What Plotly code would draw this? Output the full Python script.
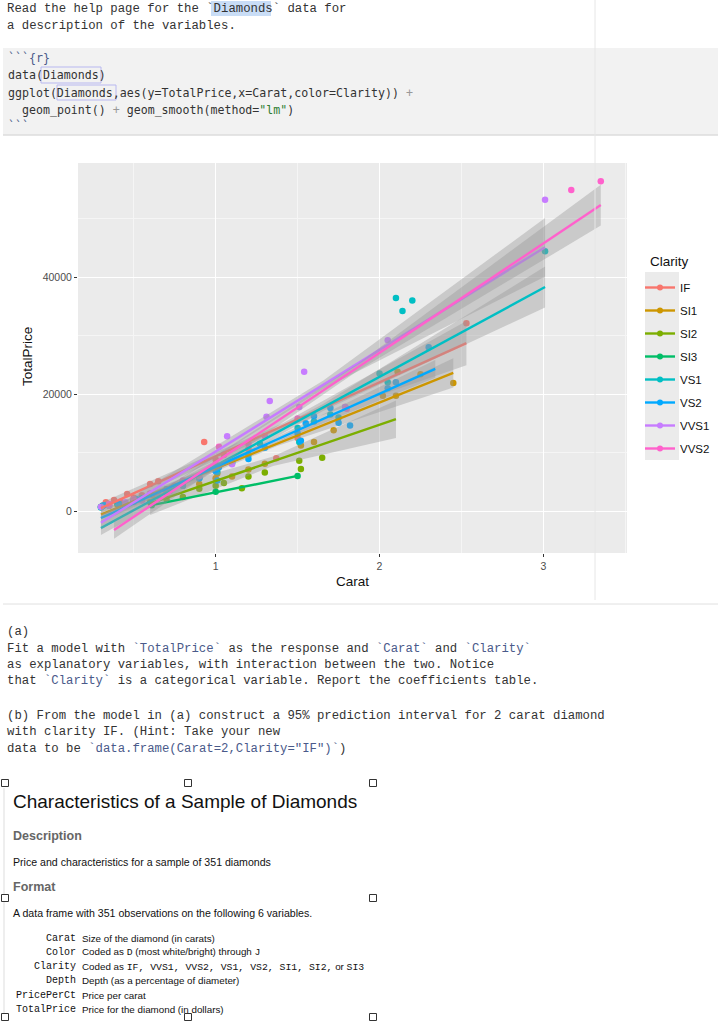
import plotly.graph_objects as go

W, H = 718, 1024

clarity = ["IF", "SI1", "SI2", "SI3", "VS1", "VS2", "VVS1", "VVS2"]
colors = ["#F8766D", "#CD9600", "#7CAE00", "#00BE67", "#00BFC4", "#00A9FF", "#C77CFF", "#FF61CC"]

carat = {
    "IF": [0.31, 0.33, 0.38, 0.42, 0.46, 0.5, 0.55, 0.6, 0.65, 0.93, 1.0, 1.05, 1.2, 1.37, 1.5, 1.79, 2.53],
    "SI1": [0.3, 0.35, 0.4, 0.5, 0.62, 0.7, 0.8, 0.9, 1.0, 1.01, 1.1, 1.2, 1.3, 1.52, 1.6, 1.72, 2.02, 2.1, 2.11, 2.25, 2.45],
    "SI2": [0.6, 0.7, 0.8, 0.9, 1.0, 1.05, 1.16, 1.2, 1.3, 1.51, 1.52, 1.65],
    "SI3": [0.61, 1.0, 1.5],
    "VS1": [0.3, 0.31, 0.4, 0.5, 0.55, 0.7, 0.8, 0.9, 1.0, 1.01, 1.1, 1.2, 1.27, 1.5, 1.51, 1.6, 1.7, 1.75, 2.0, 2.05, 2.1, 2.14, 2.2, 3.01],
    "VS2": [0.3, 0.32, 0.41, 0.5, 0.52, 0.6, 0.7, 0.72, 0.8, 0.9, 1.0, 1.01, 1.02, 1.1, 1.2, 1.3, 1.5, 1.52, 1.55, 1.6, 1.7, 1.75, 1.82, 2.05, 2.1, 2.3],
    "VVS1": [0.3, 0.35, 0.45, 0.55, 0.65, 0.75, 0.9, 1.07, 1.1, 1.31, 1.33, 1.51, 1.54, 1.79, 2.05, 3.01],
    "VVS2": [0.35, 0.5, 0.6, 0.8, 1.0, 1.02, 1.2, 1.3, 1.5, 1.8, 3.17, 3.35],
}
price = {
    "IF": [900, 1500, 1900, 1600, 2900, 2300, 2700, 4600, 5100, 11800, 8800, 9600, 10600, 9000, 12500, 17800, 32100],
    "SI1": [700, 900, 1100, 1700, 2600, 3200, 4300, 4600, 5600, 6400, 5900, 7100, 8100, 11200, 11800, 13800, 19700, 19700, 23800, 23400, 21900],
    "SI2": [1500, 2000, 2400, 3800, 4300, 4800, 3900, 5900, 6600, 8600, 7200, 9100],
    "SI3": [1000, 3300, 6000],
    "VS1": [600, 900, 1300, 1900, 2200, 3600, 5000, 5600, 7300, 6700, 8200, 9600, 11500, 14200, 11800, 15300, 16500, 16000, 23500, 22000, 36400, 34200, 36000, 44400],
    "VS2": [700, 1000, 1200, 1600, 2000, 2900, 3700, 3500, 4300, 5600, 6800, 5200, 7500, 8300, 8900, 10800, 13300, 12000, 15000, 16200, 17600, 15100, 14600, 21000, 22000, 28000],
    "VVS1": [700, 900, 1500, 1800, 2600, 4300, 6000, 12800, 8000, 16100, 18800, 17800, 23800, 17800, 29200, 53200],
    "VVS2": [1200, 2000, 3000, 5200, 8000, 11000, 11500, 12800, 15800, 17500, 54900, 56400],
}

# fitted lm lines and half widths of the grey bands
fit_x0 = [0.3, 0.3, 0.6, 0.61, 0.3, 0.3, 0.3, 0.38]
fit_x1 = [2.53, 2.45, 2.1, 1.5, 3.01, 2.34, 3.01, 3.35]
fit_y0 = [500, -600, 1300, 1000, -2900, -1200, -2000, -3250]
fit_y1 = [28700, 23600, 15700, 6000, 38300, 24300, 45100, 52300]
band_w0 = [900, 800, 2000, 0, 1200, 700, 1200, 1500]
band_wm = [500, 400, 800, 0, 600, 400, 700, 600]
band_w1 = [3800, 2500, 3200, 0, 3500, 1500, 5000, 3500]

fig = go.Figure()

for c, col in zip(clarity, colors):
    fig.add_trace(go.Scatter(x=carat[c], y=price[c], mode="markers", showlegend=False,
                             marker=dict(color=col, size=6.5)))

for i, (c, col) in enumerate(zip(clarity, colors)):
    x0, x1, y0, y1 = fit_x0[i], fit_x1[i], fit_y0[i], fit_y1[i]
    xm, ym = (x0 + x1) / 2, (y0 + y1) / 2
    if band_w1[i] > 0:
        fig.add_trace(go.Scatter(
            x=[x0, xm, x1, x1, xm, x0, x0],
            y=[y0 + band_w0[i], ym + band_wm[i], y1 + band_w1[i], y1 - band_w1[i],
               ym - band_wm[i], y0 - band_w0[i], y0 + band_w0[i]],
            fill="toself", fillcolor="rgba(153,153,153,0.4)", line=dict(width=0),
            mode="lines", showlegend=False, hoverinfo="skip"))
    fig.add_trace(go.Scatter(x=[x0, x1], y=[y0, y1], mode="lines", showlegend=False,
                             line=dict(color=col, width=2.4)))

for c, col in zip(clarity, colors):
    fig.add_trace(go.Scatter(x=[None], y=[None], mode="lines+markers", name=c, legendgroup=c,
                             line=dict(color=col, width=2.4), marker=dict(color=col, size=6)))


def py(y):
    return 1 - y / H


def px(x):
    return x / W


annots = []


def txt(x, y, s, size=12.3, family="Liberation Mono", color="#333333", **kw):
    annots.append(dict(x=px(x), y=py(y), xref="paper", yref="paper", text=s, showarrow=False,
                       xanchor=kw.get("xanchor", "left"), yanchor="middle",
                       font=dict(size=size, family=family, color=color)))


code = "#4A5A8A"
txt(5, 9, "Read the help page for the `Diamonds` data for")
txt(5, 26, "a description of the variables.")
cf = "DejaVu Sans Mono"
cs = 11.6
txt(6, 58, f'<span style="color:{code}">```{{r}}</span>', size=cs, family=cf)
txt(6, 75, "data(Diamonds)", size=cs, family=cf)
txt(6, 93, f'ggplot(Diamonds,aes(y=TotalPrice,x=Carat,color=Clarity)) <span style="color:#999">+</span>', size=cs, family=cf)
txt(20, 110, 'geom_point() <span style="color:#999">+</span> geom_smooth(method=<span style="color:#2E7D32">"lm"</span>)', size=cs, family=cf)
txt(6, 126, f'<span style="color:{code}">```</span>', size=cs, family=cf)

txt(5, 632, "(a)")
txt(5, 649, f'Fit a model with <span style="color:{code}">`TotalPrice`</span> as the response and '
            f'<span style="color:{code}">`Carat`</span> and <span style="color:{code}">`Clarity`</span>')
txt(5, 665, "as explanatory variables, with interaction between the two. Notice")
txt(5, 681, f'that <span style="color:{code}">`Clarity`</span> is a categorical variable. Report the coefficients table.')
txt(5, 716, "(b) From the model in (a) construct a 95% prediction interval for 2 carat diamond")
txt(5, 732, "with clarity IF. (Hint: Take your new")
txt(5, 749, f'data to be <span style="color:{code}">`data.frame(Carat=2,Clarity="IF")`</span>)')

sans = "Liberation Sans, Arial"
txt(11, 801, "Characteristics of a Sample of Diamonds", size=19, family=sans, color="#111111")
txt(11, 836, "<b>Description</b>", size=12.5, family=sans, color="#666666")
txt(11, 862, "Price and characteristics for a sample of 351 diamonds", size=10.6, family=sans, color="#111111")
txt(11, 887, "<b>Format</b>", size=12.5, family=sans, color="#666666")
txt(11, 913, "A data frame with 351 observations on the following 6 variables.", size=10.6, family=sans, color="#111111")
var_names = ["Carat", "Color", "Clarity", "Depth", "PricePerCt", "TotalPrice"]
var_desc = ["Size of the diamond (in carats)",
            "Coded as <span style='font-family:Liberation Mono'>D</span> (most white/bright) through <span style='font-family:Liberation Mono'>J</span>",
            "Coded as <span style='font-family:Liberation Mono'>IF, VVS1, VVS2, VS1, VS2, SI1, SI2,</span> or <span style='font-family:Liberation Mono'>SI3</span>",
            "Depth (as a percentage of diameter)", "Price per carat", "Price for the diamond (in dollars)"]
for k, (n, d) in enumerate(zip(var_names, var_desc)):
    yy = 938 + k * 14.3
    txt(78, yy, n, size=10, family="Liberation Mono", color="#111111", xanchor="right")
    txt(80, yy, d, size=9.8, family=sans, color="#111111")

txt(27, 357, "TotalPrice", size=13.5, family=sans, color="#111111")
annots[-1]["textangle"] = -90
annots[-1]["xanchor"] = "center"
txt(352, 581, "Carat", size=13.5, family=sans, color="#111111", xanchor="center")
txt(648, 261, "Clarity", size=13.5, family=sans, color="#111111")

shapes = [
    dict(type="rect", xref="paper", yref="paper", x0=px(3), x1=1, y0=py(135), y1=py(48),
         fillcolor="#F2F2F2", line=dict(width=0), layer="below"),
    dict(type="line", xref="paper", yref="paper", x0=px(3), x1=1, y0=py(135), y1=py(135),
         line=dict(color="#DDDDDD", width=1.5)),
    dict(type="line", xref="paper", yref="paper", x0=px(595), x1=px(595), y0=py(0), y1=py(600),
         line=dict(color="#E6E6E6", width=1)),
    dict(type="line", xref="paper", yref="paper", x0=px(3), x1=1, y0=py(604), y1=py(604),
         line=dict(color="#E0E0E0", width=1)),
    dict(type="rect", xref="paper", yref="paper", x0=px(211), x1=px(271), y0=py(16), y1=py(1),
         fillcolor="#C9DDF6", line=dict(width=0), layer="below"),
    dict(type="rect", xref="paper", yref="paper", x0=px(41), x1=px(101), y0=py(83), y1=py(67),
         line=dict(color="#B8B8F0", width=1)),
    dict(type="rect", xref="paper", yref="paper", x0=px(57), x1=px(116), y0=py(100), y1=py(85),
         line=dict(color="#B8B8F0", width=1)),
    dict(type="line", xref="paper", yref="paper", x0=px(4), x1=px(4), y0=py(788), y1=py(1016),
         line=dict(color="#DDDDDD", width=1)),
    dict(type="rect", xref="paper", yref="paper", x0=px(645), x1=px(679), y0=py(460), y1=py(272),
         fillcolor="#EBEBEB", line=dict(width=0), layer="below"),
]
for hx, hy in [(5, 783), (188, 783), (373, 783), (5, 898), (373, 898), (5, 1017), (188, 1017), (373, 1017)]:
    shapes.append(dict(type="rect", xref="paper", yref="paper", x0=px(hx - 3.5), x1=px(hx + 3.5),
                       y0=py(hy + 3.5), y1=py(hy - 3.5), fillcolor="white", line=dict(color="#333", width=1)))

fig.update_layout(
    width=W, height=H, margin=dict(l=0, r=0, t=0, b=0),
    paper_bgcolor="white", plot_bgcolor="#EBEBEB",
    font=dict(family=sans),
    annotations=annots, shapes=shapes,
    legend=dict(x=px(640), y=py(273), xanchor="left", yanchor="top", bgcolor="rgba(0,0,0,0)",
                font=dict(size=11.5, color="#111111", family=sans), itemwidth=30, tracegroupgap=4),
    xaxis=dict(domain=[px(78), px(627)], range=[0.16, 3.51], dtick=1, tick0=0,
               showgrid=True, gridcolor="white", gridwidth=1.2, zeroline=False,
               ticks="outside", ticklen=3, tickcolor="#333333", tickfont=dict(size=10.5, color="#4D4D4D"),
               minor=dict(dtick=0.5, tick0=0.5, showgrid=True, gridcolor="#F5F5F5", gridwidth=0.6)),
    yaxis=dict(domain=[py(553), py(163)], range=[-7180, 59500], dtick=20000, tick0=0, tickformat="d",
               showgrid=True, gridcolor="white", gridwidth=1.2, zeroline=False,
               ticks="outside", ticklen=3, tickcolor="#333333", tickfont=dict(size=10.5, color="#4D4D4D"),
               minor=dict(dtick=10000, tick0=10000, showgrid=True, gridcolor="#F5F5F5", gridwidth=0.6)),
)

fig.write_html("out.html", config={"displayModeBar": False},
               post_script="document.body.style.margin='0';")
